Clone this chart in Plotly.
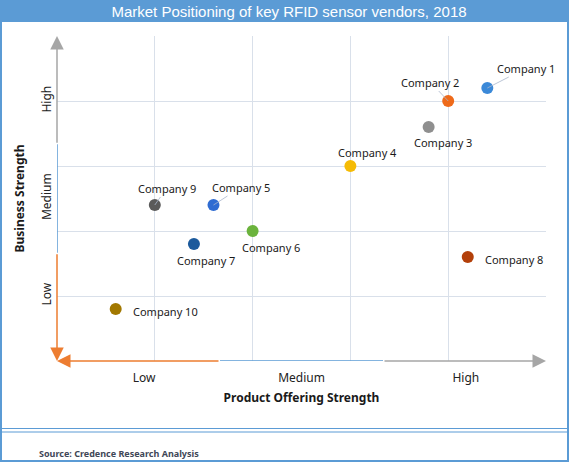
import plotly.graph_objects as go

# ---- data ----
companies = ["Company 1", "Company 2", "Company 3", "Company 4", "Company 5",
             "Company 6", "Company 7", "Company 8", "Company 9", "Company 10"]
product_strength = [4.4, 4.0, 3.8, 3.0, 1.6, 2.0, 1.4, 4.2, 1.0, 0.6]
business_strength = [4.2, 4.0, 3.6, 3.0, 2.4, 2.0, 1.8, 1.6, 2.4, 0.8]
level_labels = ["Low", "Medium", "High"]
x_level_pos = [0.89, 2.5, 4.18]
y_level_pos = [1.0, 2.5, 4.0]
grid_vals = [1, 2, 3, 4, 5]

# ---- style ----
colors = ["#3b89d8", "#ee6a1a", "#8f8f8f", "#f5bb05", "#2f6cd2",
          "#6bb33d", "#1c5a9c", "#b3400a", "#5a5a5a", "#a27800"]
# label offsets in pixels (dx, dy: +dy is down), leader line flag
label_off = [(39, -20, True), (-18, -19, True), (14, 15, False), (17, -14, False),
             (28, -18, True), (18, 16, False), (12, 16, False), (46, 2, False),
             (12, -17, True), (50, 2, False)]

W, H = 569, 462
L, R, T, B = 57, 23, 36, 101
PW, PH = W - L - R, H - T - B
def px(x): return (x - L) / PW
def py(y): return (H - B - y) / PH

BLUE = "#5b9bd5"
ORANGE = "#ed7d31"
GRAY = "#a6a6a6"
LBL_FONT = dict(family="Noto Sans", size=11, color="#1a1a1a")

fig = go.Figure()
fig.add_trace(go.Scatter(
    x=product_strength, y=business_strength, mode="markers",
    marker=dict(size=12, color=colors, line=dict(width=0)),
    text=companies, hoverinfo="text", showlegend=False, cliponaxis=False))

ann = []
for xv, yv, name, (dx, dy, lead) in zip(product_strength, business_strength, companies, label_off):
    if lead:
        ann.append(dict(x=xv, y=yv, text=name, showarrow=True, arrowhead=0,
                        arrowwidth=0.8, arrowcolor="#aab6cc", ax=dx, ay=dy,
                        standoff=0, font=LBL_FONT))
    else:
        ann.append(dict(x=xv, y=yv, text=name, showarrow=False,
                        xshift=dx, yshift=-dy, font=LBL_FONT))

# axis arrows (drawn on the data scale)
AH = dict(text="", showarrow=True, arrowhead=2, arrowsize=1.8, arrowwidth=1.5,
          axref="x", ayref="y")
ann += [
    dict(x=5, y=0, ax=10/3, ay=0, arrowcolor=GRAY, **AH),
    dict(x=0, y=0, ax=5/3, ay=0, arrowcolor=ORANGE, **AH),
    dict(x=0, y=5, ax=0, ay=10/3, arrowcolor=GRAY, **AH),
    dict(x=0, y=0, ax=0, ay=5/3, arrowcolor=ORANGE, **AH),
]
# source note
ann.append(dict(xref="paper", yref="paper", x=px(37), y=py(453), xanchor="left",
                yanchor="middle", showarrow=False,
                text="<b>Source: Credence Research Analysis</b>",
                font=dict(family="Noto Sans", size=9, color="#3f4757")))

shapes = [
    dict(type="line", xref="x", yref="y", x0=5/3, x1=10/3, y0=0, y1=0,
         line=dict(color=BLUE, width=1.5)),
    dict(type="line", xref="x", yref="y", x0=0, x1=0, y0=5/3, y1=10/3,
         line=dict(color=BLUE, width=1.5)),
    # title band
    dict(type="rect", xref="paper", yref="paper", x0=px(0), x1=px(W),
         y0=py(22), y1=py(0), fillcolor=BLUE, line=dict(width=0), layer="below"),
    # outer border
    dict(type="rect", xref="paper", yref="paper", x0=px(1), x1=px(W - 1),
         y0=py(H - 1), y1=py(1), line=dict(color=BLUE, width=2)),
    # double separator line
    dict(type="line", xref="paper", yref="paper", x0=px(0), x1=px(W),
         y0=py(428.5), y1=py(428.5), line=dict(color=BLUE, width=1)),
    dict(type="line", xref="paper", yref="paper", x0=px(0), x1=px(W),
         y0=py(432), y1=py(432), line=dict(color=BLUE, width=1)),
]

fig.update_layout(
    width=W, height=H,
    margin=dict(l=L, r=R, t=T, b=B, pad=0),
    paper_bgcolor="white", plot_bgcolor="white",
    title=dict(text="Market Positioning of key RFID sensor vendors, 2018",
               x=289 / W, y=1 - 12 / H, xanchor="center", yanchor="middle",
               font=dict(family="Liberation Sans", size=15, color="white")),
    xaxis=dict(range=[0, 5], tickvals=x_level_pos, ticktext=level_labels,
               showgrid=False, zeroline=False, showline=False, ticks="",
               ticklabelstandoff=8,
               tickfont=dict(family="Noto Sans", size=12, color="#222222"),
               minor=dict(tickvals=grid_vals, showgrid=True, gridcolor="#d9e0ea",
                          gridwidth=1, ticks=""),
               title=dict(text="<b>Product Offering Strength</b>", standoff=8,
                          font=dict(family="Noto Sans", size=12, color="#1a1a1a"))),
    yaxis=dict(range=[0, 5], tickvals=y_level_pos, ticktext=level_labels,
               showgrid=False, zeroline=False, showline=False, ticks="",
               tickangle=-90, ticklabelstandoff=3,
               tickfont=dict(family="Noto Sans", size=12, color="#222222"),
               minor=dict(tickvals=grid_vals, showgrid=True, gridcolor="#d9e0ea",
                          gridwidth=1, ticks=""),
               title=dict(text="<b>Business Strength</b>", standoff=10,
                          font=dict(family="Noto Sans", size=12, color="#1a1a1a"))),
    annotations=ann, shapes=shapes,
)

fig.write_html("out.html", config={"displayModeBar": False},
               post_script="document.body.style.margin='0';document.body.style.overflow='hidden';")
